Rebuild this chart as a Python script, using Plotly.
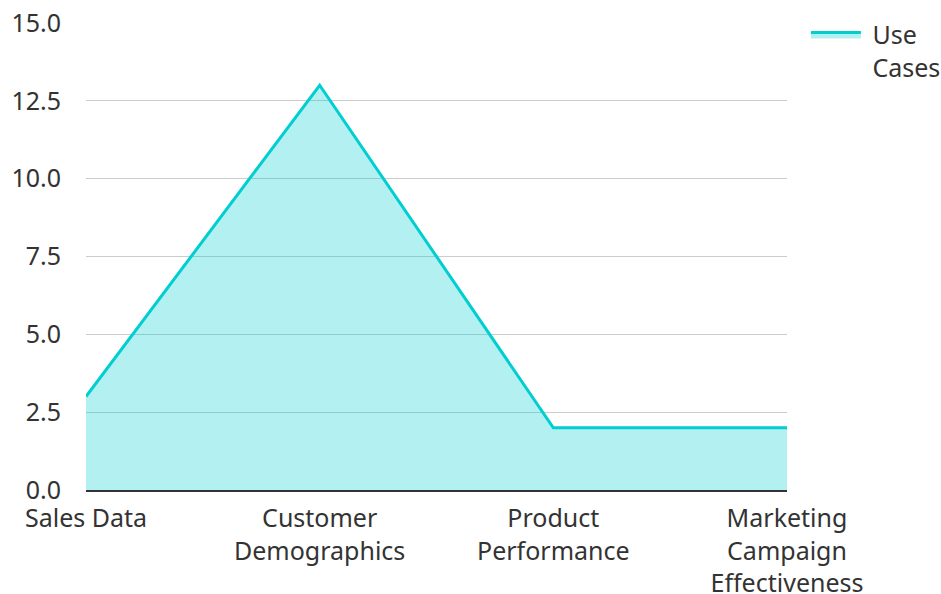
import plotly.graph_objects as go

categories = ["Sales Data", "Customer<br>Demographics", "Product<br>Performance", "Marketing<br>Campaign<br>Effectiveness"]
values = [3, 13, 2, 2]
series_name = "\u00a0Use<br>\u00a0Cases"

fig = go.Figure()
fig.add_trace(go.Scatter(
    x=categories, y=values, name=series_name, mode="lines",
    fill="tozeroy", line=dict(color="#00CED1", width=3),
    fillcolor="rgba(0,206,209,0.3)",
))

fig.update_layout(
    width=941, height=594,
    margin=dict(l=86, r=154, t=23, b=104, autoexpand=False),
    plot_bgcolor="white", paper_bgcolor="white",
    font=dict(family="Noto Sans", size=25, color="#333333"),
    showlegend=True,
    legend=dict(x=1.027, y=1.024, xanchor="left", yanchor="top", valign="top",
                itemwidth=50, font=dict(size=25)),
)
fig.update_xaxes(
    range=[0, 3], showgrid=False, showline=True, linecolor="#333333", linewidth=2,
    ticks="", tickfont=dict(size=25), automargin=False, ticklabelstandoff=5,
)
fig.update_yaxes(
    range=[0, 15], dtick=2.5, tickformat=".1f", showgrid=True, gridcolor="#cccccc",
    gridwidth=1, zeroline=False, showline=False, ticks="", ticklen=0,
    tickfont=dict(size=25), ticklabelstandoff=24, automargin=False,
)

fig.write_html("out.html", config={"displayModeBar": False},
               post_script="document.body.style.margin='0';")
